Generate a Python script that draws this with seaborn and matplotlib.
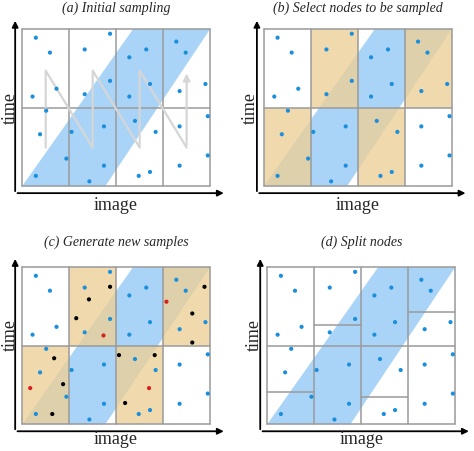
import numpy as np
import matplotlib.pyplot as plt
import seaborn as sns
from matplotlib.patches import Polygon, Rectangle

sns.set_style("white")
plt.rcParams['font.family'] = ['Liberation Serif', 'DejaVu Serif']

# sample positions (cell units: image 0..4, time 0..2)
pts_x = [0.29, 0.59, 0.22, 0.73, 0.51, 0.38, 0.29, 0.94, 1.05, 1.33, 1.87, 1.87, 1.33, 1.74,
         1.74, 1.43, 2.28, 2.64, 2.28, 2.72, 2.40, 2.84, 2.72, 2.48, 3.28, 3.48, 3.35, 3.90,
         3.95, 3.35, 3.95, 3.35]
pts_y = [1.89, 1.70, 1.14, 1.24, 0.96, 0.66, 0.13, 0.35, 0.69, 1.74, 1.94, 1.34, 1.17, 0.76,
         0.26, 0.06, 1.64, 1.74, 1.14, 1.30, 0.83, 0.69, 0.18, 0.13, 1.84, 1.70, 1.21, 1.30,
         0.89, 0.76, 0.39, 0.26]
new_x = [1.87, 1.42, 1.15, 3.88, 3.62, 3.62, 0.68, 0.87, 0.64, 2.06, 2.82, 2.19]
new_y = [1.75, 1.59, 1.35, 1.75, 1.41, 1.04, 0.84, 0.51, 0.13, 0.88, 0.88, 0.27]
red_x = [1.73, 3.07, 0.17, 2.70]
red_y = [1.13, 1.56, 0.46, 0.46]
band_bottom = [0.0, 1.77]
band_top = [2.36, 4.0]
selected = [(1, 1), (3, 1), (0, 0), (2, 0)]
# split lines in (d): (column, row, y)
splits = [(0, 0, 0.41), (1, 1, 1.26), (2, 0, 0.35), (3, 1, 1.43)]
zig_x = [0.5, 0.5, 1.5, 1.5, 2.5, 2.5, 3.5, 3.5]
zig_y = [0.49, 1.47, 0.49, 1.47, 0.49, 1.47, 0.49, 1.47]
titles = ['(a) Initial sampling', '(b) Select nodes to be sampled',
          '(c) Generate new samples', '(d) Split nodes']

BLUE = '#1b8fdc'
GRID = '#9a9a9a'
W, H = 474, 451

fig = plt.figure(figsize=(4.74, 4.51), dpi=100)
rects = [[0.032, 0.570, 0.446, 0.39], [0.542, 0.570, 0.446, 0.39],
         [0.032, 0.042, 0.446, 0.39], [0.549, 0.042, 0.446, 0.39]]
# label positions in pixels: (title_x, title_y, image_y, time_x, time_y)
labels_px = [(116, 8, 205, 10, 108), (358, 8, 205, 250, 108),
             (116, 242, 440, 10, 335), (362, 242, 440, 254, 335)]

for i, r in enumerate(rects):
    ax = fig.add_axes(r)
    ax.set_xlim(-0.15, 4.35)
    ax.set_ylim(-0.1, 2.14)
    ax.axis('off')

    band = Polygon([(band_bottom[0], 0), (band_bottom[1], 0), (band_top[1], 2), (band_top[0], 2)],
                   closed=True, facecolor='#a9d4f7', edgecolor='none', zorder=1)
    ax.add_patch(band)
    if i in (1, 2):
        for cx, cy in selected:
            ax.add_patch(Rectangle((cx, cy), 1, 1, facecolor='#eccf96', alpha=0.78,
                                   edgecolor='none', zorder=2))

    for gx in range(5):
        ax.plot([gx, gx], [0, 2], color=GRID, lw=1.1, zorder=3)
    for gy in range(3):
        ax.plot([0, 4], [gy, gy], color=GRID, lw=1.1, zorder=3)
    if i == 3:
        for cx, cy, yy in splits:
            ax.plot([cx, cx + 1], [yy, yy], color=GRID, lw=1.1, zorder=3)

    if i == 0:
        ax.plot(zig_x[:-1], zig_y[:-1], color='#d6d6d6', lw=1.6, zorder=4)
        ax.annotate('', xy=(zig_x[-1], zig_y[-1]), xytext=(zig_x[-2], zig_y[-2]),
                    arrowprops=dict(arrowstyle='-|>', color='#d6d6d6', lw=1.6), zorder=4)

    sns.scatterplot(x=pts_x, y=pts_y, ax=ax, color=BLUE, s=9, edgecolor='none', zorder=5)
    if i == 2:
        sns.scatterplot(x=new_x, y=new_y, ax=ax, color='black', s=9, edgecolor='none', zorder=5)
        sns.scatterplot(x=red_x, y=red_y, ax=ax, color='#d62020', s=9, edgecolor='none', zorder=5)

    ax.annotate('', xy=(4.35, -0.09), xytext=(-0.16, -0.09),
                arrowprops=dict(arrowstyle='-|>', color='black', lw=1.3, mutation_scale=9))
    ax.annotate('', xy=(-0.15, 2.14), xytext=(-0.15, -0.1),
                arrowprops=dict(arrowstyle='-|>', color='black', lw=1.3, mutation_scale=9))

    tx, ty, iy, mx, my = labels_px[i]
    fig.text(tx / W, 1 - ty / H, titles[i], ha='center', va='center', fontsize=10, style='italic')
    fig.text(tx / W, 1 - iy / H, 'image', ha='center', va='center', fontsize=13)
    fig.text(mx / W, 1 - my / H, 'time', ha='center', va='center', rotation=90, fontsize=13)

fig.savefig('out.png', dpi=100)
